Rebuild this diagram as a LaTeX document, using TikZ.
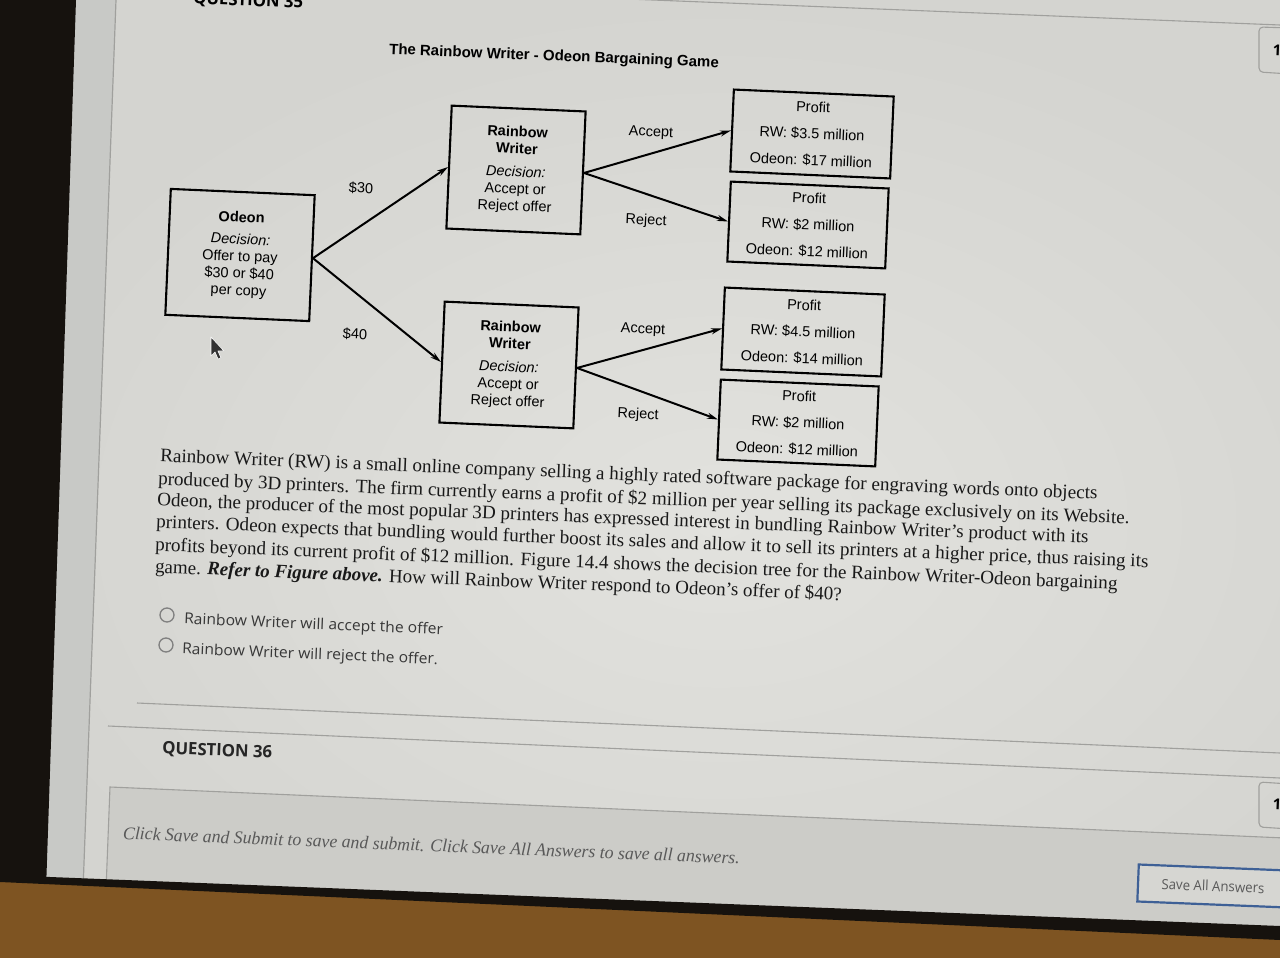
\documentclass[tikz,border=0pt]{standalone}
\usepackage{fontspec}
\usepackage{graphicx}
\setmainfont{Liberation Serif}
\newfontfamily\arialf{Liberation Sans}
\newfontfamily\uif{Open Sans}
\usetikzlibrary{arrows.meta}
\definecolor{pagec}{RGB}{212,212,208}
\definecolor{pagelight}{RGB}{226,226,222}
\definecolor{bandc}{RGB}{200,201,198}
\definecolor{darkc}{RGB}{22,18,14}
\definecolor{deskc}{RGB}{126,84,34}
\definecolor{rulec}{RGB}{160,160,157}
\definecolor{panelc}{RGB}{204,204,200}
\definecolor{btnblue}{RGB}{62,96,150}
\definecolor{uigray}{RGB}{55,55,55}
\newcommand\fitw[2]{\resizebox{#1}{\height}{#2}}
\tikzset{
  box/.style={draw, line width=2.1pt, rotate=-2.5, align=center, inner sep=0pt,
    font=\arialf\fontsize{14.5}{17}\selectfont},
  pbox/.style={box, font=\arialf\fontsize{14.5}{26.5}\selectfont},
  arr/.style={line width=2pt, -{Stealth[length=11pt,width=6pt]}},
  lab/.style={font=\arialf\fontsize{14.5}{17}\selectfont, rotate=-2.5, inner sep=0pt},
  para/.style={anchor=west, rotate=-2.3, inner sep=0pt, text=black!90,
    font=\fontsize{19}{21}\selectfont},
  ui/.style={anchor=west, rotate=-2.3, inner sep=0pt, text=uigray,
    font=\uif\fontsize{15}{17}\selectfont},
  radio/.style={circle, draw=gray, line width=1.3pt, minimum size=14pt, inner sep=0pt},
  rule/.style={draw=rulec, line width=1.1pt}
}
\begin{document}
\begin{tikzpicture}[x=1pt,y=-1pt]
\useasboundingbox (0,0) rectangle (1280,958);
\clip (0,0) rectangle (1280,958);
% page background with lighting
\fill[pagec] (0,0) rectangle (1280,958);
\path[inner color=pagelight, outer color=pagec] (720,520) ellipse (760 and 520);
% sidebar band and dark left edge
\fill[bandc] (0,0) -- (116,0) -- (83,890) -- (0,890) -- cycle;
\draw[rulec, line width=1.2pt] (116,0) -- (83,890);
\fill[darkc] (0,0) -- (76,0) -- (46,890) -- (0,890) -- cycle;
% bottom panel
\fill[panelc] (110,787) -- (1285,838) -- (1285,940) -- (106,890) -- cycle;
\draw[rule] (1285,838) -- (110,787) -- (106,890);
% rules
\draw[rule] (0,-26) -- (1280,25);
\draw[rule] (137,703) -- (1280,753);
\draw[rule] (108,726) -- (1280,778);
% point boxes at the right
\draw[rule, rounded corners=4pt] (1290,28) -- (1259,27) -- (1259,72) -- (1290,74);
\node[font=\uif\bfseries\fontsize{15}{17}\selectfont, rotate=-2.3] (pts1) at (1277,50) {1};
\draw[rule, rounded corners=4pt] (1290,784) -- (1259,782) -- (1259,827) -- (1290,829);
\node[font=\uif\bfseries\fontsize{15}{17}\selectfont, rotate=-2.3] (pts2) at (1277,804) {1};
% desk and bezel
\fill[deskc] (0,880) -- (1280,934) -- (1280,958) -- (0,958) -- cycle;
\fill[darkc] (0,875) -- (1280,926) -- (1280,940) -- (0,882) -- cycle;
% header
\node[ui, text=black, font=\uif\bfseries\fontsize{17}{19}\selectfont] (q35) at (193,-1) {\fitw{110pt}{QUESTION 35}};
% title
\node[rotate=-2.3, inner sep=0pt, font=\arialf\bfseries\fontsize{15}{17}\selectfont] (title) at (554,57) {The Rainbow Writer - Odeon Bargaining Game};
% decision tree
\node[box, minimum width=144pt, minimum height=126pt] (odeon) at (240,255)
  {{\bfseries Odeon}\\[5pt]{\itshape Decision:}\\Offer to pay\\\$30 or \$40\\per copy};
\node[box, minimum width=134pt, minimum height=123pt] (rw1) at (516,170)
  {{\bfseries Rainbow}\\{\bfseries Writer}\\[6pt]{\itshape Decision:}\\Accept or\\Reject offer};
\node[box, minimum width=134pt, minimum height=121pt] (rw2) at (509,365)
  {{\bfseries Rainbow}\\{\bfseries Writer}\\[6pt]{\itshape Decision:}\\Accept or\\Reject offer};
\node[pbox, minimum width=160pt, minimum height=82pt] (p1) at (812,134)
  {Profit\\RW: \$3.5 million\\Odeon: \$17 million};
\node[pbox, minimum width=158pt, minimum height=80pt] (p2) at (808,225)
  {Profit\\RW: \$2 million\\Odeon: \$12 million};
\node[pbox, minimum width=160pt, minimum height=82pt] (p3) at (803,332)
  {Profit\\RW: \$4.5 million\\Odeon: \$14 million};
\node[pbox, minimum width=158pt, minimum height=80pt] (p4) at (798,423)
  {Profit\\RW: \$2 million\\Odeon: \$12 million};
\draw[arr] (odeon.east) -- (rw1.west);
\draw[arr] (odeon.east) -- (rw2.west);
\draw[arr] (rw1.east) -- (p1.west);
\draw[arr] (rw1.east) -- (p2.west);
\draw[arr] (rw2.east) -- (p3.west);
\draw[arr] (rw2.east) -- (p4.west);
\node[lab] (l30) at (361,188) {\$30};
\node[lab] (l40) at (355,334) {\$40};
\node[lab] (la1) at (651,133) {Accept};
\node[lab] (lr1) at (646,221) {Reject};
\node[lab] (la2) at (643,330) {Accept};
\node[lab] (lr2) at (638,415) {Reject};
% cursor
\filldraw[fill=black!80, draw=white, line width=0.6pt, line join=round]
  (211,337) -- (211,356) -- (215,352) -- (218,359) -- (221,358) -- (218,351) -- (224,351) -- cycle;
% paragraph
\node[para] (t1) at (160,457) {\fitw{938pt}{Rainbow Writer (RW) is a small online company selling a highly rated software package for engraving words onto objects}};
\node[para] (t2) at (158,480) {\fitw{972pt}{produced by 3D printers. The firm currently earns a profit of \$2 million per year selling its package exclusively on its Website.}};
\node[para] (t3) at (157,501) {\fitw{932pt}{Odeon, the producer of the most popular 3D printers has expressed interest in bundling Rainbow Writer's product with its}};
\node[para] (t4) at (156,523) {\fitw{993pt}{printers. Odeon expects that bundling would further boost its sales and allow it to sell its printers at a higher price, thus raising its}};
\node[para] (t5) at (155,546) {\fitw{963pt}{profits beyond its current profit of \$12 million. Figure 14.4 shows the decision tree for the Rainbow Writer-Odeon bargaining}};
\node[para] (t6) at (155,568) {\fitw{687pt}{game. \textbf{\textit{Refer to Figure above.}} How will Rainbow Writer respond to Odeon's offer of \$40?}};
% answers
\node[radio] (r1) at (167,615) {};
\node[ui] (a1) at (184,620) {\fitw{259pt}{Rainbow Writer will accept the offer}};
\node[radio] (r2) at (166,645) {};
\node[ui] (a2) at (182,650) {\fitw{256pt}{Rainbow Writer will reject the offer.}};
% question 36
\node[ui, text=black!85, font=\uif\bfseries\fontsize{17}{19}\selectfont] (q36) at (162,749) {\fitw{110pt}{QUESTION 36}};
% footer
\node[para, text=black!65, font=\itshape\fontsize{18}{20}\selectfont] (foot) at (123,833) {\fitw{617pt}{Click Save and Submit to save and submit. Click Save All Answers to save all answers.}};
\node[draw=btnblue, line width=2.2pt, rotate=-2.3, minimum width=150pt, minimum height=37pt, fill=pagec!96!white] (save) at (1213,886) {};
\node[ui, anchor=center, text=black!65, font=\uif\fontsize{14}{16}\selectfont] (savet) at (save.center) {\fitw{103pt}{Save All Answers}};
\end{tikzpicture}
\end{document}
